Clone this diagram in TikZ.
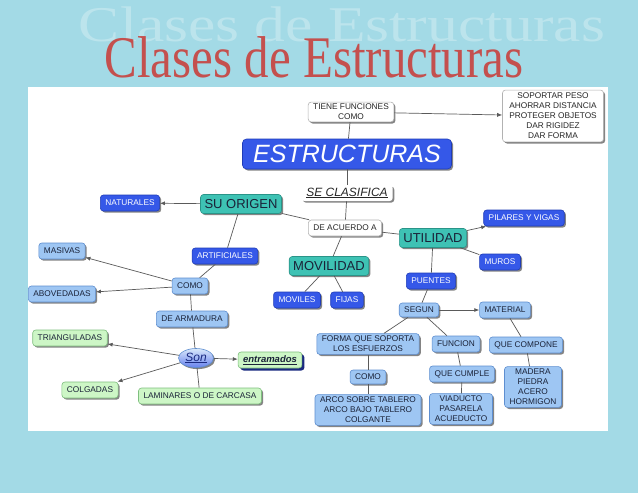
\documentclass[tikz,border=0pt]{standalone}
\usepackage{fontspec}
\setmainfont{Liberation Serif}
\setsansfont{Liberation Sans}
\usetikzlibrary{shadows,arrows.meta,shapes.geometric}
\definecolor{bgc}{HTML}{A3DAE6}
\definecolor{titlered}{HTML}{C4504E}
\definecolor{dbluef}{HTML}{3558E8}
\definecolor{dbluel}{HTML}{1F3CB8}
\definecolor{tealf}{HTML}{3EC2B4}
\definecolor{teall}{HTML}{2A9488}
\definecolor{lbluef}{HTML}{9EC6F3}
\definecolor{lbluel}{HTML}{5E8ED0}
\definecolor{greenf}{HTML}{CDF6C6}
\definecolor{greenl}{HTML}{7FBF7F}
\definecolor{darktxt}{HTML}{1A2238}
\definecolor{linec}{HTML}{5A5A5A}
\definecolor{navy}{HTML}{1A2A80}
\tikzset{
  box/.style={rounded corners=3pt, align=center, inner xsep=5pt, inner ysep=2.5pt,
    minimum height=16pt, line width=0.6pt,
    font=\sffamily\fontsize{8.3}{10}\selectfont,
    drop shadow={shadow xshift=1.6pt, shadow yshift=-1.6pt, fill=black!60, opacity=0.8}},
  wbox/.style={box, fill=white, draw=black!30, text=black!85},
  dblue/.style={box, fill=dbluef, draw=dbluel, text=white},
  tealbox/.style={box, fill=tealf, draw=teall, text=darktxt, minimum height=19pt,
    font=\sffamily\fontsize{13}{13}\selectfont, inner xsep=4pt},
  lblue/.style={box, fill=lbluef, draw=lbluel, text=darktxt},
  gbox/.style={box, fill=greenf, draw=greenl, text=darktxt},
  conn/.style={draw=linec, line width=0.7pt},
  arr/.style={conn, -{Latex[length=5pt,width=4pt]}},
}
\begin{document}
\begin{tikzpicture}[x=1pt,y=-1pt]
\useasboundingbox (0,0) rectangle (638,493);
\fill[bgc] (0,0) rectangle (638,493);
\fill[white] (28,87) rectangle (608,431);
% titles
\node[anchor=base, text=white, opacity=0.28, inner sep=0pt] (ghost) at (342,41)
  {\scalebox{1.23}[1]{\fontsize{50}{50}\selectfont Clases de Estructuras}};
\node[anchor=base, text=titlered, inner sep=0pt] (title) at (314,77)
  {\scalebox{0.83}[1]{\fontsize{59}{59}\selectfont Clases de Estructuras}};
% top
\node[wbox, inner ysep=2pt] (tiene) at (351,112) {TIENE FUNCIONES\\COMO};
\node[wbox, minimum width=101pt, inner ysep=3pt] (sop) at (553,116)
  {SOPORTAR PESO\\AHORRAR DISTANCIA\\PROTEGER OBJETOS\\DAR RIGIDEZ\\DAR FORMA};
\node[dblue, font=\sffamily\itshape\fontsize{25}{25}\selectfont, minimum width=209pt,
  minimum height=30pt, rounded corners=4pt] (estr) at (347,154) {ESTRUCTURAS};
\node[wbox, draw=none, font=\sffamily\itshape\fontsize{12}{12}\selectfont, inner ysep=1.5pt]
  (secl) at (347,193) {\underline{SE CLASIFICA}};
\node[wbox] (deac) at (345,228) {DE ACUERDO A};
% origen
\node[tealbox] (origen) at (241,204) {SU ORIGEN};
\node[dblue] (nat) at (130,203) {NATURALES};
\node[dblue] (art) at (225,256) {ARTIFICIALES};
\node[lblue] (como1) at (190,286) {COMO};
\node[lblue] (mas) at (62,251) {MASIVAS};
\node[lblue] (abo) at (62,294) {ABOVEDADAS};
\node[lblue] (arm) at (192,319) {DE ARMADURA};
\node[ellipse, minimum width=35pt, minimum height=19pt, inner sep=0pt,
  top color=lbluef!40, bottom color=dbluef!75, draw=lbluel, line width=0.6pt,
  text=navy, font=\sffamily\itshape\fontsize{12}{12}\selectfont,
  drop shadow={shadow xshift=1.6pt, shadow yshift=-1.6pt, fill=black!60, opacity=0.8}]
  (son) at (196,358) {\underline{Son}};
\node[gbox, font=\sffamily\bfseries\itshape\fontsize{9.5}{10}\selectfont,
  drop shadow={shadow xshift=2.5pt, shadow yshift=-2.5pt, fill=navy, opacity=1}]
  (entr) at (270,360) {\underline{entramados}};
\node[gbox] (tri) at (70,338) {TRIANGULADAS};
\node[gbox] (col) at (90,390) {COLGADAS};
\node[gbox] (lam) at (200,396) {LAMINARES O DE CARCASA};
% movilidad
\node[tealbox] (movi) at (329,266) {MOVILIDAD};
\node[dblue] (movs) at (297,300) {MOVILES};
\node[dblue] (fij) at (347,300) {FIJAS};
% utilidad
\node[tealbox] (util) at (433,238) {UTILIDAD};
\node[dblue] (pil) at (524,218) {PILARES Y VIGAS};
\node[dblue] (mur) at (500,262) {MUROS};
\node[dblue] (pue) at (431,281) {PUENTES};
\node[lblue, minimum height=14pt] (seg) at (419,310) {SEGUN};
\node[lblue] (mat) at (505,310) {MATERIAL};
\node[lblue] (forma) at (368,344) {FORMA QUE SOPORTA\\LOS ESFUERZOS};
\node[lblue] (fun) at (456,344) {FUNCION};
\node[lblue] (qcomp) at (526,345) {QUE COMPONE};
\node[lblue, minimum height=14pt] (como2) at (368,377) {COMO};
\node[lblue] (qcump) at (462,374) {QUE CUMPLE};
\node[lblue, minimum width=57pt] (mad) at (533,387) {MADERA\\PIEDRA\\ACERO\\HORMIGON};
\node[lblue, minimum width=106pt] (arco) at (368,410) {ARCO SOBRE TABLERO\\ARCO BAJO TABLERO\\COLGANTE};
\node[lblue, minimum width=63pt] (via) at (461,409) {VIADUCTO\\PASARELA\\ACUEDUCTO};
% connectors
\draw[arr] (tiene) -- (sop);
\draw[conn] (tiene) -- (estr);
\draw[conn] (estr) -- (secl);
\draw[conn] (secl) -- (deac);
\draw[conn] (deac) -- (origen);
\draw[conn] (deac) -- (util);
\draw[conn] (deac) -- (movi);
\draw[arr] (origen) -- (nat);
\draw[conn] (origen) -- (art);
\draw[conn] (art) -- (como1);
\draw[arr] (como1) -- (mas);
\draw[arr] (como1) -- (abo);
\draw[conn] (como1) -- (arm);
\draw[conn] (arm) -- (son);
\draw[arr] (son) -- (tri);
\draw[arr] (son) -- (col);
\draw[arr] (son) -- (entr);
\draw[conn] (son) -- (lam);
\draw[conn] (movi) -- (movs);
\draw[conn] (movi) -- (fij);
\draw[arr] (util) -- (pil);
\draw[conn] (util) -- (mur);
\draw[conn] (util) -- (pue);
\draw[conn] (pue) -- (seg);
\draw[arr] (seg) -- (mat);
\draw[conn] (seg) -- (forma);
\draw[conn] (seg) -- (fun);
\draw[conn] (forma) -- (como2);
\draw[conn] (como2) -- (arco);
\draw[conn] (fun) -- (qcump);
\draw[conn] (qcump) -- (via);
\draw[conn] (mat) -- (qcomp);
\draw[conn] (qcomp) -- (mad);
\end{tikzpicture}
\end{document}
